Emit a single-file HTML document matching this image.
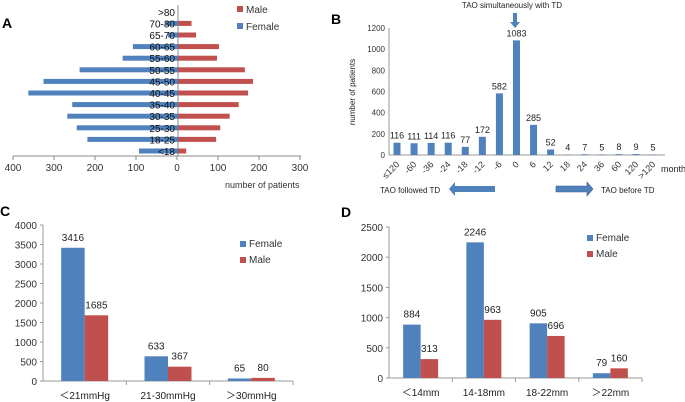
<!DOCTYPE html>
<html><head><meta charset="utf-8"><style>
body{margin:0;background:#fff}
svg{display:block;font-family:"Liberation Sans","Noto Sans CJK SC",sans-serif}
</style></head><body>
<svg id="s" width="685" height="402">
<text x="2" y="28" font-size="14" font-weight="bold">A</text>
<text x="331" y="24" font-size="14" font-weight="bold">B</text>
<text x="0" y="216" font-size="14" font-weight="bold">C</text>
<text x="341" y="217" font-size="14" font-weight="bold">D</text>
<g id="A"></g><g id="B"></g><g id="C"></g><g id="D"></g>
</svg>
<script>
// Panel A data
const ageGroups=["<18","18-25","25-30","30-35","35-40","40-45","45-50","50-55","55-60","60-65","65-70","70-80",">80"];
const ageFemale=[95,221,247,270,258,365,328,240,135,110,25,30,0];
const ageMale=[20,93,103,126,148,171,183,163,95,100,44,33,0];
const aTicks=[400,300,200,100,0,100,200,300];
// Panel B data
const months=["≤120","-60","-36","-24","-18","-12","-6","0","6","12","18","24","36","60","120",">120"];
const monthCounts=[116,111,114,116,77,172,582,1083,285,52,4,7,5,8,9,5];
const bTicks=[0,200,400,600,800,1000,1200];
// Panel C data
const pressureCats=["＜21mmHg","21-30mmHg","＞30mmHg"];
const pressureFemale=[3416,633,65];
const pressureMale=[1685,367,80];
const cTicks=[0,500,1000,1500,2000,2500,3000,3500,4000];
// Panel D data
const sizeCats=["＜14mm","14-18mm","18-22mm","＞22mm"];
const sizeFemale=[884,2246,905,79];
const sizeMale=[313,963,696,160];
const dTicks=[0,500,1000,1500,2000,2500];

const BLUE="#4f81bd",RED="#c0504d",NS="http://www.w3.org/2000/svg";
function mk(parent,tag,attrs,txt){const e=document.createElementNS(NS,tag);for(const k in attrs)e.setAttribute(k,attrs[k]);if(txt!==undefined)e.textContent=txt;parent.appendChild(e);return e;}

// ---- A ----
(function(){
const g=document.getElementById('A');
const x0=178,k=0.41,y=i=>151-i*11.6;
const ax=mk(g,'line',{x1:13,x2:301,y1:156,y2:156,stroke:'#888'});

const ay=mk(g,'line',{x1:x0,x2:x0,y1:5,y2:156,stroke:'#888'});

aTicks.forEach((t,i)=>{const xx=13+i*41;
 mk(g,'line',{x1:xx,x2:xx,y1:156,y2:160,stroke:'#888'});
 const tl=mk(g,'text',{x:xx,y:171,'font-size':10,'text-anchor':'middle',fill:'#333'},t);
 });
ageGroups.forEach((a,i)=>{
 const f=mk(g,'rect',{x:x0-ageFemale[i]*k,y:y(i)-2.5,width:ageFemale[i]*k,height:5,fill:BLUE});
 
 const m=mk(g,'rect',{x:x0,y:y(i)-2.5,width:ageMale[i]*k,height:5,fill:RED});
 
 const l=mk(g,'text',{x:x0-3,y:y(i)+4,'font-size':10,'text-anchor':'end',fill:'#111'},a);
 });
const t=mk(g,'text',{x:225,y:188,'font-size':9,fill:'#333'},'number of patients');

mk(g,'rect',{x:237,y:6,width:6,height:6,fill:RED});
const lm=mk(g,'text',{x:246,y:13,'font-size':10,fill:'#333'},'Male');
mk(g,'rect',{x:237,y:23,width:6,height:6,fill:BLUE});
const lf=mk(g,'text',{x:246,y:30,'font-size':10,fill:'#333'},'Female');
})();

// ---- B ----
(function(){
const g=document.getElementById('B');
const y0=155,k=127/1200,cx=i=>397+i*17.07;
mk(g,'line',{x1:389,x2:389,y1:28,y2:155,stroke:'#999'});
const ax=mk(g,'line',{x1:389,x2:665,y1:155,y2:155,stroke:'#999'});

bTicks.forEach(t=>{const l=mk(g,'text',{x:385,y:y0-t*k+3,'font-size':8,'text-anchor':'end',fill:'#333'},t);
 });
months.forEach((m,i)=>{
 const h=monthCounts[i]*k;
 const r=mk(g,'rect',{x:cx(i)-3.5,y:y0-h,width:7,height:h,fill:BLUE});
 
 const v=mk(g,'text',{x:cx(i),y:y0-h-4,'font-size':9,'text-anchor':'middle',fill:'#222'},monthCounts[i]);
 
 const l=mk(g,'text',{x:cx(i)+3,y:165,'font-size':9,'text-anchor':'end',fill:'#333',transform:`rotate(-45 ${cx(i)+3} 165)`},m);
 });
const mo=mk(g,'text',{x:661,y:172,'font-size':9,fill:'#222'},'month');
const yt=mk(g,'text',{x:355,y:92,'font-size':8,'text-anchor':'middle',fill:'#222',transform:'rotate(-90 355 92)'},'number of patients');

const tt=mk(g,'text',{x:512,y:8,'font-size':8,'text-anchor':'middle',fill:'#222'},'TAO simultaneously with TD');

mk(g,'polygon',{points:'513,13 517,13 517,22 520,22 515,28 510,22 513,22',fill:BLUE});
mk(g,'polygon',{points:'495,186 455,186 455,182 449,189 455,196 455,192 495,192',fill:BLUE});
const t1=mk(g,'text',{x:380,y:193,'font-size':8,fill:'#222'},'TAO followed TD');
mk(g,'polygon',{points:'556,186 587,186 587,182 593,189 587,196 587,192 556,192',fill:BLUE,stroke:'#385d8a','stroke-width':0.6});
const t2=mk(g,'text',{x:601,y:193,'font-size':8,fill:'#222'},'TAO before TD');
})();

// ---- grouped bar helper ----
function grouped(g,p,cats,fem,mal,ticks,pref){
 const k=(p.y0-p.ytop)/ticks[ticks.length-1];
 mk(g,'line',{x1:p.x0,x2:p.x0,y1:p.ytop,y2:p.y0,stroke:'#999'});
 mk(g,'line',{x1:p.x0,x2:p.x1,y1:p.y0,y2:p.y0,stroke:'#999'});
 ticks.forEach(t=>{const yy=p.y0-t*k;mk(g,'line',{x1:p.x0-3,x2:p.x0,y1:yy,y2:yy,stroke:'#999'});
  const l=mk(g,'text',{x:p.x0-6,y:yy+4,'font-size':10,'text-anchor':'end',fill:'#333'},t);
  });
 const gw=(p.x1-p.x0)/cats.length;
 cats.forEach((c,i)=>{
  const gx=p.x0+i*gw,mid=gx+gw/2;
  mk(g,'line',{x1:gx+gw,x2:gx+gw,y1:p.y0,y2:p.y0+4,stroke:'#999'});
  const hf=fem[i]*k,hm=mal[i]*k;
  const f=mk(g,'rect',{x:mid-p.bw,y:p.y0-hf,width:p.bw,height:hf,fill:BLUE});
  
  const m=mk(g,'rect',{x:mid,y:p.y0-hm,width:p.bw,height:hm,fill:RED});
  
  const vf=mk(g,'text',{x:mid-p.bw/2,y:p.y0-hf-7,'font-size':10,'text-anchor':'middle',fill:'#222'},fem[i]);
  
  const vm=mk(g,'text',{x:mid+p.bw/2,y:p.y0-hm-7,'font-size':10,'text-anchor':'middle',fill:'#222'},mal[i]);
  
  const l=mk(g,'text',{x:mid,y:p.y0+18,'font-size':10,'text-anchor':'middle',fill:'#222'},c);
  });
 mk(g,'rect',{x:p.lx,y:p.ly-6,width:6,height:6,fill:BLUE});
 const a=mk(g,'text',{x:p.lx+9,y:p.ly,'font-size':10,fill:'#333'},'Female');
 mk(g,'rect',{x:p.lx,y:p.ly+10,width:6,height:6,fill:RED});
 const b=mk(g,'text',{x:p.lx+9,y:p.ly+16,'font-size':10,fill:'#333'},'Male');
}
grouped(document.getElementById('C'),{x0:43,x1:293,y0:381,ytop:225,bw:23.5,lx:240,ly:247},pressureCats,pressureFemale,pressureMale,cTicks,'c');
grouped(document.getElementById('D'),{x0:389,x1:642,y0:378,ytop:227,bw:17.5,lx:587,ly:241},sizeCats,sizeFemale,sizeMale,dTicks,'d');
</script>
</body></html>
